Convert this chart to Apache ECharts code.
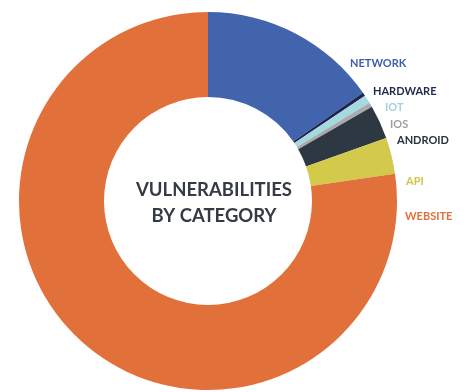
<!DOCTYPE html>
<html>
<head>
<meta charset="utf-8">
<script src="https://cdn.jsdelivr.net/npm/echarts@6/dist/echarts.min.js"></script>
<style>
  html, body { margin: 0; padding: 0; background: #fff; }
  #donut { width: 474px; height: 392px; }
</style>
</head>
<body>
<div id="donut"></div>
<script>
var categories = ['NETWORK', 'HARDWARE', 'IOT', 'IOS', 'ANDROID', 'API', 'WEBSITE'];
var shares = [15.3, 0.3, 0.7, 0.4, 2.9, 3.1, 77.3];
var sliceColors = ['#4264ad', '#1c2650', '#a6d9df', '#a9aaae', '#2e3843', '#d3ca4b', '#e2703a'];
var labelColors = ['#3e60a8', '#1e2a4d', '#9fd4dc', '#9c9ea2', '#2a323c', '#cfc64a', '#e2703a'];
// where each label sits (left x, middle y)
var labelPos = [[350, 63], [373, 91], [385, 107], [390, 124], [397, 140], [406, 181], [405, 216]];

var donut = echarts.init(document.getElementById('donut'));

var option = {
    animation: false,
    title: {
        text: 'VULNERABILITIES\nBY CATEGORY',
        left: 209,
        top: 198,
        textAlign: 'center',
        textVerticalAlign: 'middle',
        textStyle: {
            fontFamily: 'Lato',
            fontSize: 18.5,
            fontWeight: 'bold',
            color: '#343b44',
            lineHeight: 26
        }
    },
    series: [
        {
            type: 'pie',
            center: [208, 201],
            radius: [104, 189],
            startAngle: 90,
            clockwise: true,
            avoidLabelOverlap: false,
            labelLine: { show: false },
            label: {
                show: true,
                position: 'outside',
                formatter: '{b}',
                fontFamily: 'Lato',
                fontSize: 11,
                fontWeight: 'bold'
            },
            labelLayout: function (params) {
                var p = labelPos[params.dataIndex];
                return { x: p[0], y: p[1], align: 'left', verticalAlign: 'middle' };
            },
            data: categories.map(function (name, i) {
                return {
                    name: name,
                    value: shares[i],
                    itemStyle: { color: sliceColors[i] },
                    label: { color: labelColors[i] }
                };
            })
        }
    ]
};
donut.setOption(option);
</script>
</body>
</html>
